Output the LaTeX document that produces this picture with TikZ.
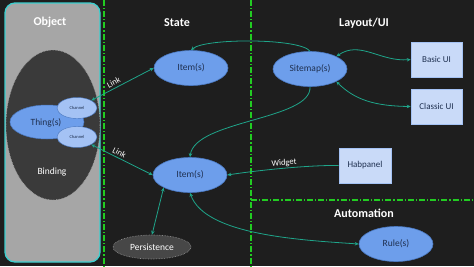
\documentclass[tikz,border=0pt]{standalone}
\usepackage{fontspec}
\setmainfont{Carlito}
\usetikzlibrary{arrows.meta,shapes.geometric}
\definecolor{bg}{HTML}{1E1E1E}
\definecolor{objfill}{HTML}{A6A6A6}
\definecolor{objborder}{HTML}{3CCFCF}
\definecolor{bindfill}{HTML}{3A3A3A}
\definecolor{itemfill}{HTML}{6D9EEB}
\definecolor{itemborder}{HTML}{4A78C0}
\definecolor{chanfill}{HTML}{A4C2F4}
\definecolor{boxfill}{HTML}{C9DAF8}
\definecolor{txtdark}{HTML}{1F3050}
\definecolor{conn}{HTML}{1FA58A}
\definecolor{sep}{HTML}{22CC22}
\definecolor{persfill}{HTML}{474747}
\tikzset{
  title/.style={text=white,font=\bfseries\fontsize{12}{14}\selectfont},
  itemnode/.style={ellipse,fill=itemfill,draw=itemborder,line width=0.6pt,text=txtdark,font=\fontsize{9.5}{11}\selectfont,minimum width=74pt,minimum height=35pt,inner sep=0pt},
  channode/.style={ellipse,fill=chanfill,draw=itemborder,line width=0.4pt,text=txtdark,font=\fontsize{4.5}{5}\selectfont,minimum width=40pt,minimum height=21pt,inner sep=0pt},
  uibox/.style={rectangle,fill=boxfill,draw=chanfill,line width=0.6pt,text=txtdark,font=\fontsize{9}{10}\selectfont,inner sep=0pt},
  tip/.tip={Stealth[length=4pt,width=3.5pt]},
  link/.style={draw=conn,line width=0.8pt,-tip},
  blink/.style={draw=conn,line width=0.8pt,tip-tip},
  sepline/.style={draw=sep,line width=1.1pt,dash pattern=on 6pt off 2pt on 1.2pt off 2pt},
  lbl/.style={text=white,font=\fontsize{8.5}{9}\selectfont,inner sep=1pt}
}
\begin{document}
\begin{tikzpicture}[x=1pt,y=-1pt]
\fill[bg] (0,0) rectangle (474,266);
\useasboundingbox (0,0) rectangle (474,266);
% object panel
\draw[fill=objfill,draw=objborder,line width=1.3pt,rounded corners=10pt] (5,3) rectangle (100,262);
\node[title] (tobj) at (50,22) {Object};
\node[ellipse,fill=bindfill,draw=gray!70,densely dotted,line width=0.6pt,minimum width=94pt,minimum height=150pt,inner sep=0pt] (bind) at (53,125) {};
\node[text=white,font=\fontsize{9.5}{11}\selectfont] (tbind) at (52,172) {Binding};
\node[ellipse,fill=itemfill,draw=itemborder,line width=0.5pt,minimum width=74pt,minimum height=34pt,inner sep=0pt] (thing) at (47,122) {};
\node[text=txtdark,font=\fontsize{9.5}{11}\selectfont] (tthing) at (46,123) {Thing(s)};
\node[channode] (ch1) at (77,108) {Channel};
\node[channode] (ch2) at (77,137) {Channel};
% separators
\coordinate (v1t) at (104,0); \coordinate (v1b) at (104,266);
\coordinate (v2t) at (251,0); \coordinate (v2b) at (251,266);
\coordinate (h1) at (251,200); \coordinate (h2) at (474,200);
\draw[sepline] (v1t) -- (v1b);
\draw[sepline] (v2t) -- (v2b);
\draw[sepline] (h1) -- (h2);
% titles
\node[title] (tstate) at (177,23) {State};
\node[title] (tlay) at (364,23) {Layout/UI};
\node[title] (taut) at (364,213) {Automation};
% nodes
\node[itemnode] (item1) at (191,68) {Item(s)};
\node[itemnode] (item2) at (190,175) {Item(s)};
\node[itemnode] (site) at (310,69) {Sitemap(s)};
\node[itemnode] (rule) at (396,244) {Rule(s)};
\node[ellipse,fill=persfill,draw=gray!80,densely dotted,line width=0.6pt,minimum width=78pt,minimum height=24pt,inner sep=0pt,text=white,font=\fontsize{9.5}{11}\selectfont] (pers) at (152,247) {Persistence};
\node[uibox,minimum width=51pt,minimum height=35pt] (basic) at (436.5,59.5) {Basic UI};
\node[uibox,minimum width=51pt,minimum height=35pt] (classic) at (436.5,106.5) {Classic UI};
\node[uibox,minimum width=52pt,minimum height=35pt] (hab) at (365,165.5) {Habpanel};
% connectors
\draw[blink] (ch1.north east) -- node[lbl,sloped,above=1.5pt,pos=0.4] {Link} (item1.west);
\draw[blink] (ch2.south east) -- node[lbl,sloped,above=1pt,pos=0.42] {Link} (item2.west);
\draw[link] (site.north) .. controls (300,38) and (205,38) .. (item1.north);
\draw[link] (site.south) .. controls (312,120) and (195,120) .. (item2.north);
\draw[blink] (basic.west) .. controls (380,62) and (360,40) .. (site.north east);
\draw[blink] (classic.west) .. controls (375,106) and (355,100) .. (site.south east);
\draw[link] (hab.west) .. controls (310,165) and (260,170) .. node[lbl,above,pos=0.5,sloped] {Widget} (item2.east);
\draw[blink] (rule.west) .. controls (300,240) and (205,235) .. (item2.south);
\draw[blink] (item2.south west) -- (pers.north);
\end{tikzpicture}
\end{document}
